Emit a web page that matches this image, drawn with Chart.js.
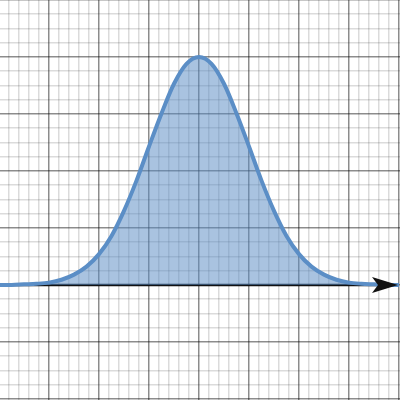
<!DOCTYPE html>
<html>
<head>
<script src="https://cdn.jsdelivr.net/npm/chart.js@4"></script>
<style>html,body{margin:0;padding:0;background:#fff}#wrap{width:400px;height:400px}</style>
</head>
<body>
<div id="wrap"><canvas id="c"></canvas></div>
<script>
// curve samples (x in major grid units, y in major grid units)
const xs = [-4, -3.75, -3.5, -3.25, -3, -2.75, -2.5, -2.25, -2, -1.75, -1.5, -1.25, -1, -0.75, -0.5, -0.25,
  0, 0.25, 0.5, 0.75, 1, 1.25, 1.5, 1.75, 2, 2.25, 2.5, 2.75, 3, 3.25, 3.5, 3.75, 4];
const ys = [0.00, 0.00, 0.01, 0.02, 0.04, 0.09, 0.18, 0.32, 0.54, 0.86, 1.30, 1.83, 2.43, 3.01, 3.53, 3.88,
  4.00, 3.88, 3.53, 3.01, 2.43, 1.83, 1.30, 0.86, 0.54, 0.32, 0.18, 0.09, 0.04, 0.02, 0.01, 0.00, 0.00];
const xRange = [-3.98, 4.02];
const yRange = [-2.02, 5.0];

function gridTicks(min, max, step) {
  const out = [];
  for (let i = Math.ceil(min / step); i * step <= max + 1e-9; i++) out.push({ value: +(i * step).toFixed(4) });
  return out;
}
const gridColor = ctx => {
  const v = ctx.tick ? ctx.tick.value : 0;
  return Math.abs(v - Math.round(v)) < 1e-6 ? 'rgba(0,0,0,0.45)' : 'rgba(0,0,0,0.14)';
};

const axisArrow = {
  id: 'axisArrow',
  beforeDatasetsDraw(chart) {
    const { ctx, scales: { x, y } } = chart;
    const py = y.getPixelForValue(0);
    ctx.save();
    ctx.strokeStyle = '#111';
    ctx.lineWidth = 2.5;
    ctx.beginPath();
    ctx.moveTo(x.left, py);
    ctx.lineTo(x.right - 20, py);
    ctx.stroke();
    ctx.restore();
  },
  afterDatasetsDraw(chart) {
    const { ctx, scales: { x, y } } = chart;
    const py = y.getPixelForValue(0);
    const tip = x.right - 2;
    ctx.save();
    ctx.fillStyle = '#111';
    ctx.beginPath();
    ctx.moveTo(tip, py);
    ctx.lineTo(tip - 26, py - 8);
    ctx.lineTo(tip - 20, py);
    ctx.lineTo(tip - 26, py + 8);
    ctx.closePath();
    ctx.fill();
    ctx.restore();
  }
};

new Chart(document.getElementById('c'), {
  type: 'line',
  data: {
    datasets: [{
      data: xs.map((v, i) => ({ x: v, y: ys[i] })),
      borderColor: '#5b8ec6',
      borderWidth: 4,
      backgroundColor: 'rgba(90,140,196,0.52)',
      fill: 'origin',
      pointRadius: 0,
      tension: 0.4,
      cubicInterpolationMode: 'monotone'
    }]
  },
  options: {
    responsive: true,
    maintainAspectRatio: false,
    animation: false,
    layout: { padding: 0 },
    plugins: { legend: { display: false }, tooltip: { enabled: false } },
    scales: {
      x: {
        type: 'linear', min: xRange[0], max: xRange[1],
        afterBuildTicks: s => { s.ticks = gridTicks(xRange[0], xRange[1], 0.2); },
        ticks: { display: false },
        border: { display: false },
        grid: { color: gridColor, lineWidth: 1.5, drawTicks: false }
      },
      y: {
        type: 'linear', min: yRange[0], max: yRange[1],
        afterBuildTicks: s => { s.ticks = gridTicks(yRange[0], yRange[1], 0.25); },
        ticks: { display: false },
        border: { display: false },
        grid: { color: gridColor, lineWidth: 1.5, drawTicks: false }
      }
    }
  },
  plugins: [axisArrow]
});
</script>
</body>
</html>
